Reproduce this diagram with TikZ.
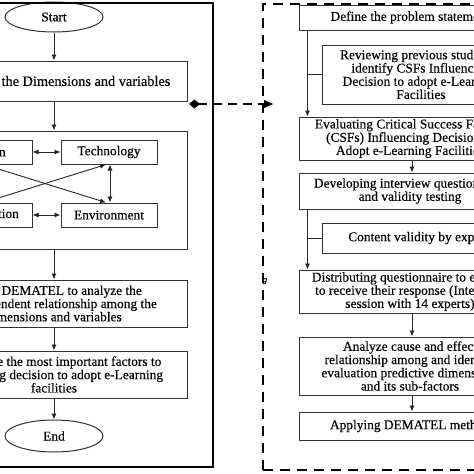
\documentclass[tikz,border=0pt]{standalone}
\usepackage{fontspec}
\setmainfont{Liberation Serif}[FakeBold=0.3]
\usetikzlibrary{arrows.meta,shapes.geometric}
\begin{document}
\begin{tikzpicture}[x=1pt,y=-1pt,
  txt/.style={font=\fontsize{13.4}{12}\selectfont},
  box/.style={draw=black!80,line width=1pt,rectangle,align=center,inner sep=0pt,txt},
  oval/.style={draw=black!80,line width=1pt,ellipse,inner sep=0pt,txt},
  arr/.style={-{Latex[length=6pt,width=5pt]},line width=0.9pt,black!85},
  darr/.style={{Latex[length=6pt,width=5pt]}-{Latex[length=6pt,width=5pt]},line width=0.9pt,black!85},
  plain/.style={line width=0.9pt,black!85},
  frame/.style={line width=2.6pt},
  dframe/.style={line width=2.6pt,dash pattern=on 10pt off 7pt},
  link/.style={line width=2.4pt,dash pattern=on 9pt off 6pt,
    {Diamond[length=11pt,width=9pt]}-{Latex[length=10pt,width=9pt]}},
]
\useasboundingbox (0,0) rectangle (474,474);
\clip (0,0) rectangle (474,474);
\fill[white] (0,0) rectangle (474,474);

% ---------- left column ----------
\node[oval,minimum width=98pt,minimum height=30pt] (start) at (54,17) {Start};
\node[box,minimum width=266pt,minimum height=40pt,font=\fontsize{14.3}{12}\selectfont] (dims) at (54,81) {Determine the Dimensions and variables};
\node[box,minimum width=266pt,minimum height=118pt] (big) at (54,190) {};
\node[box,minimum width=96pt,minimum height=24pt] (human) at (-16,152) {\hspace{4pt}Human};
\node[box,minimum width=96pt,minimum height=24pt] (tech) at (109,152) {Technology};
\node[box,minimum width=96pt,minimum height=24pt] (org) at (-16,215) {Organization};
\node[box,minimum width=96pt,minimum height=24pt] (env) at (109,215) {Environment};
\node[box,minimum width=266pt,minimum height=47pt] (dem) at (54,303.5) {Using DEMATEL to analyze the\\interdependent relationship among the\\dimensions and variables};
\node[box,minimum width=266pt,minimum height=47pt] (imp) at (54,374.5) {Determine the most important factors to\\influencing decision to adopt e-Learning\\facilities};
\node[oval,minimum width=98pt,minimum height=32pt] (end) at (54,436) {End};

\draw[arr] (start) -- (dims);
\draw[arr] (dims) -- (big);
\draw[arr] (big) -- (dem);
\draw[arr] (dem) -- (imp);
\draw[arr] (imp) -- (end);
\draw[darr] (human) -- (tech);
\draw[darr] (org) -- (env);
\draw[darr] ([xshift=1pt]tech.south) -- ([xshift=1pt]env.north);
\draw[arr] (human.south) -- ([xshift=-3pt]env.north);
\draw[arr] (org.north) -- ([xshift=-3pt]tech.south);

\draw[frame] (-10,3) -- (213,3) -- (213,467) -- (-10,467);

% ---------- right column ----------
\node[box,minimum width=222pt,minimum height=25pt] (d1) at (410,17.5) {Define the problem statement};
\node[box,minimum width=198pt,minimum height=59pt] (d2) at (421,74.5) {Reviewing previous studies to\\identify CSFs Influencing\\Decision to adopt e-Learning\\Facilities};
\node[box,minimum width=222pt,minimum height=43pt] (d3) at (410,138.5) {Evaluating Critical Success Factors\\(CSFs) Influencing Decision to\\Adopt e-Learning Facilities};
\node[box,minimum width=222pt,minimum height=36pt] (d4) at (410,191) {Developing interview questionnaire\\and validity testing};
\node[box,minimum width=198pt,minimum height=30pt] (d5) at (421,238) {Content validity by experts};
\node[box,minimum width=222pt,minimum height=43pt] (d6) at (410,291.5) {Distributing questionnaire to experts\\to receive their response (Interview\\session with 14 experts)};
\node[box,minimum width=222pt,minimum height=58pt] (d7) at (410,366) {Analyze cause and effect\\relationship among and identify\\evaluation predictive dimensions\\and its sub-factors};
\node[box,minimum width=222pt,minimum height=28pt] (d8) at (410,426) {Applying DEMATEL method};

\coordinate (c1) at ([xshift=9pt]d1.south west);
\draw[arr] (c1) -- (c1 |- d3.north);
\draw[plain] (c1 |- d2.west) -- (d2.west);
\coordinate (c2) at ([xshift=9pt]d4.south west);
\draw[arr] (c2) -- (c2 |- d6.north);
\draw[plain] (c2 |- d5.west) -- (d5.west);
\draw[arr] ([xshift=2pt]d3.south) -- ([xshift=2pt]d4.north);
\draw[arr] ([xshift=2pt]d6.south) -- ([xshift=2pt]d7.north);
\draw[arr] ([xshift=2pt]d7.south) -- ([xshift=2pt]d8.north);

\draw[dframe] (263,470) -- (263,4) -- (500,4);
\draw[dframe] (263,470) -- (500,470);

\node[font=\fontsize{9}{9}\selectfont\itshape,inner sep=0pt] (gmark) at (265,281) {g};

% ---------- link ----------
\coordinate (lk1) at (189,104);
\coordinate (lk2) at (274,104);
\draw[link] (lk1) -- (lk2);
\end{tikzpicture}
\end{document}
